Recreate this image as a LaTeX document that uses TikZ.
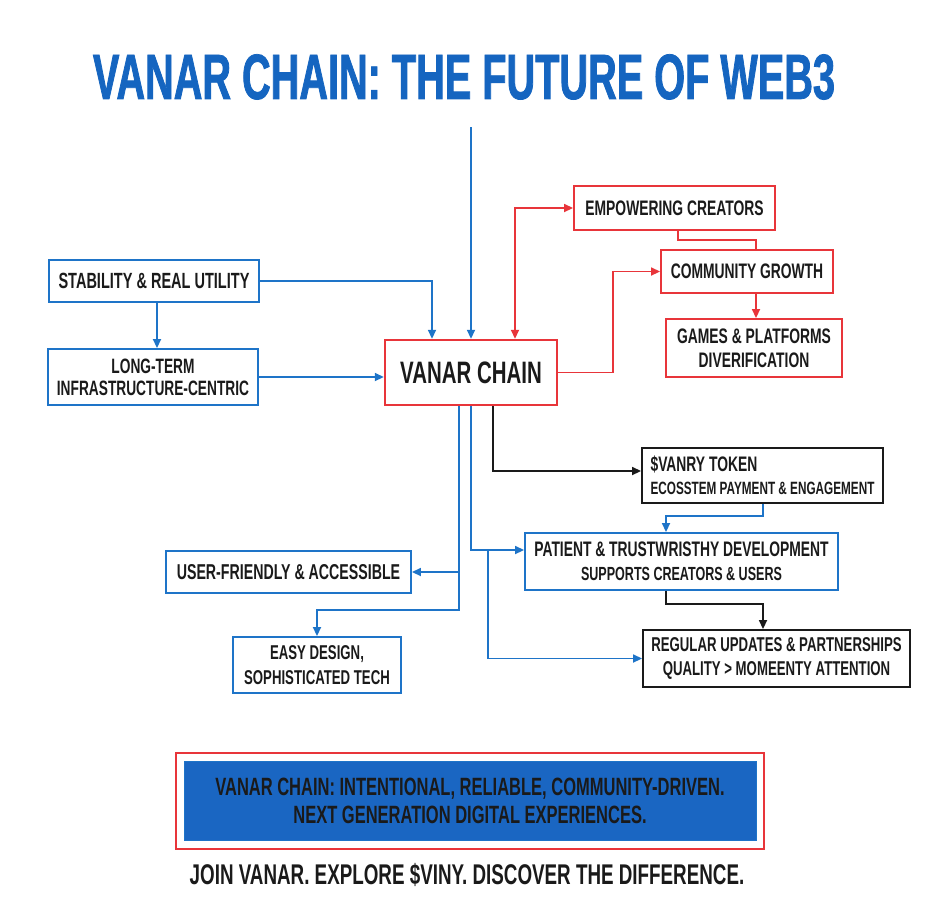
\documentclass[tikz,border=0pt]{standalone}
\usepackage{fontspec}
\setmainfont{Liberation Sans}
\newfontfamily\labelfont{Liberation Sans}[FakeStretch=0.66]
\newfontfamily\titlefont{Liberation Sans}[FakeStretch=0.62,FakeBold=1.2]
\usetikzlibrary{arrows.meta}
\definecolor{vblue}{HTML}{1E74C8}
\definecolor{vtitle}{HTML}{1565C0}
\definecolor{vred}{HTML}{E8353A}
\definecolor{vfill}{HTML}{1A66C2}
\definecolor{vink}{HTML}{1A1A1A}
\newcommand{\fs}[1]{\fontsize{#1}{24}\selectfont}
\tikzset{
  box/.style={draw, line width=1.9pt, inner sep=0pt, align=center,
    font=\labelfont\bfseries\fs{21}, text=vink},
  bbox/.style={box, draw=vblue},
  rbox/.style={box, draw=vred},
  kbox/.style={box, draw=vink},
  conn/.style={line width=1.7pt, -{Triangle[length=9pt,width=8pt]}},
  bconn/.style={conn, draw=vblue},
  rconn/.style={conn, draw=vred},
  kconn/.style={conn, draw=vink},
  plain/.style={line width=1.7pt},
}
\begin{document}
\begin{tikzpicture}[x=1pt,y=-1pt]
\useasboundingbox (0,0) rectangle (927,906);
\fill[white] (0,0) rectangle (927,906);

% title
\node[font=\titlefont\bfseries\fontsize{64}{70}\selectfont, text=vtitle, inner sep=0] (title) at (464,77) {VANAR CHAIN: THE FUTURE OF WEB3};

% left column
\node[bbox, minimum width=210pt, minimum height=42pt, font=\labelfont\bfseries\fs{22}] (stab) at (154,281) {STABILITY \& REAL UTILITY};
\node[bbox, minimum width=210pt, minimum height=56pt, font=\labelfont\bfseries\fontsize{20.8}{22}\selectfont] (long) at (153,377) {LONG-TERM\\INFRASTRUCTURE-CENTRIC};

% center
\node[rbox, line width=2.4pt, minimum width=172pt, minimum height=65pt, font=\labelfont\bfseries\fontsize{31}{34}\selectfont] (vanar) at (471,372.5) {VANAR CHAIN};

% upper right
\node[rbox, minimum width=201pt, minimum height=44pt] (emp) at (674.5,208) {EMPOWERING CREATORS};
\node[rbox, minimum width=172pt, minimum height=43pt] (comm) at (747,271.5) {COMMUNITY GROWTH};
\node[rbox, minimum width=176pt, minimum height=58pt] (games) at (754,348) {GAMES \& PLATFORMS\\DIVERIFICATION};

% lower right
\node[kbox, minimum width=241pt, minimum height=55pt, align=left, font=\labelfont\bfseries\fontsize{21}{23}\selectfont] (vanry) at (762.5,475.5) {\$VANRY TOKEN\\{\fontsize{17.8}{23}\selectfont ECOSSTEM PAYMENT \& ENGAGEMENT}};
\node[bbox, minimum width=313pt, minimum height=57pt] (patient) at (681.5,561.5) {PATIENT \& TRUSTWRISTHY DEVELOPMENT\\{\fontsize{19}{24}\selectfont SUPPORTS CREATORS \& USERS}};
\node[kbox, minimum width=267pt, minimum height=57pt, font=\labelfont\bfseries\fontsize{20}{24}\selectfont] (regular) at (776.5,658.5) {REGULAR UPDATES \& PARTNERSHIPS\\QUALITY > MOMEENTY ATTENTION};

% lower left
\node[bbox, minimum width=245pt, minimum height=42pt, font=\labelfont\bfseries\fontsize{21.5}{24}\selectfont] (user) at (288.5,572) {USER-FRIENDLY \& ACCESSIBLE};
\node[bbox, minimum width=168pt, minimum height=56pt, font=\labelfont\bfseries\fontsize{20}{25}\selectfont] (easy) at (317,665) {EASY DESIGN,\\SOPHISTICATED TECH};

% bottom banner
\node[draw=vred, line width=1.6pt, minimum width=588pt, minimum height=96pt, inner sep=0] (outer) at (470,801) {};
\node[fill=vfill, draw=vblue, line width=1pt, minimum width=572pt, minimum height=79pt, inner sep=0, align=center, text=vink, font=\labelfont\bfseries\fontsize{25}{28}\selectfont] (banner) at (470,800.5) {VANAR CHAIN: INTENTIONAL, RELIABLE, COMMUNITY-DRIVEN.\\NEXT GENERATION DIGITAL EXPERIENCES.};
\node[font=\labelfont\bfseries\fontsize{28.5}{30}\selectfont, text=vink, inner sep=0] (join) at (467,875) {JOIN VANAR. EXPLORE \$VINY. DISCOVER THE DIFFERENCE.};

% coordinates
\coordinate (top) at (471,127);
\coordinate (vl) at ([xshift=-12pt]vanar.south);
\coordinate (vm) at (vanar.south);
\coordinate (vr) at ([xshift=22pt]vanar.south);
\coordinate (br) at ([xshift=17pt]vanar.south |- 0,550);

% connectors into VANAR
\draw[bconn] (top) -- (vanar.north);
\draw[bconn] (stab.east) -| ([xshift=-39pt]vanar.north);
\draw[bconn] ([xshift=3pt]stab.south) -- ([xshift=4pt]long.north);
\draw[bconn] (long.east) -- (long.east -| vanar.west);

% red group
\draw[plain, draw=vred, {Triangle[length=9pt,width=8pt]}-{Triangle[length=9pt,width=8pt]}] ([xshift=44pt]vanar.north) |- (emp.west);
\draw[plain, draw=vred] ([xshift=3.5pt]emp.south) -- ++(0,9) -| ([xshift=9pt]comm.north);
\draw[rconn] (vanar.east) -- ++(55,0) |- (comm.west);
\draw[rconn] ([xshift=9pt]comm.south) -- ([xshift=2pt]games.north);

% lower right group
\draw[kconn] (vr) |- ([yshift=4.5pt]vanry.west);
\draw[bconn] ([xshift=0.5pt]vanry.south) -- ++(0,12) -| ([xshift=-15.5pt]patient.north);
\draw[bconn] (vm) |- ([yshift=11.5pt]patient.west);
\draw[bconn] (br) |- (regular.west);
\draw[kconn] ([xshift=-15.5pt]patient.south) -- ++(0,13) -| ([xshift=-13.5pt]regular.north);

% lower left group
\draw[bconn] (vl) -- ++(0,204) -| (easy.north);
\draw[bconn] (vl |- user.east) -- (user.east);
\end{tikzpicture}
\end{document}
